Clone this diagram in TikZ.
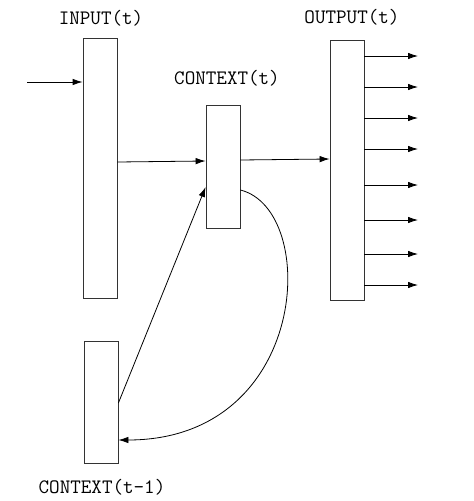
\documentclass[tikz,border=0pt]{standalone}
\usetikzlibrary{arrows.meta,positioning}

\begin{document}
\begin{tikzpicture} [
	   x=1pt, y=-1pt,
	   layer/.style    = { rectangle, draw=black!80, line width=0.8pt, minimum width=34pt, inner sep=0pt },
	   tag/.style      = { font=\fontsize{20.5}{22}\selectfont\ttfamily, inner sep=0pt },
	   line/.style     = { draw, line width=0.8pt, -{Latex[length=10pt,width=6.5pt]} },
	 ]
	  \useasboundingbox (0,0) rectangle (474,501);

	  % Define the layers
	  \node [layer, minimum height=260pt] (input)   at (100,168)   {};
	  \node [layer, minimum height=123pt] (context) at (223,166.5) {};
	  \node [layer, minimum height=260pt] (output)  at (347,170)   {};
	  \node [layer, minimum height=122pt] (prev)    at (101,402)   {};

	  \node [tag] (inputlab)   at (101,18)  {INPUT(t)};
	  \node [tag] (contextlab) at (227,78)  {CONTEXT(t)};
	  \node [tag] (outputlab)  at (352,17)  {OUTPUT(t)};
	  \node [tag] (prevlab)    at (102,487) {CONTEXT(t-1)};

	  \coordinate (in) at (27,82);

	 % connect all nodes defined above
	  \begin{scope} [every path/.style=line]
		\path (in) -- (input.west |- in);
	%
		\path (input.east |- 0,162) -- (context.west |- 0,161);
		\path (context.east |- 0,160) -- (output.west |- 0,159);
	%
		\path (prev.east |- 0,403) -- (context.west |- 0,187);
		\path (context.east |- 0,190) .. controls (320,210) and (310,440) .. (prev.east |- 0,440);
	%
		\foreach \y [count=\i] in {56,87,118,149,185,220,254,285} {
		   \coordinate (o\i) at (418,\y);
		   \path (output.east |- o\i) -- (o\i);
		}
	 \end{scope}
	\end{tikzpicture}
\end{document}
